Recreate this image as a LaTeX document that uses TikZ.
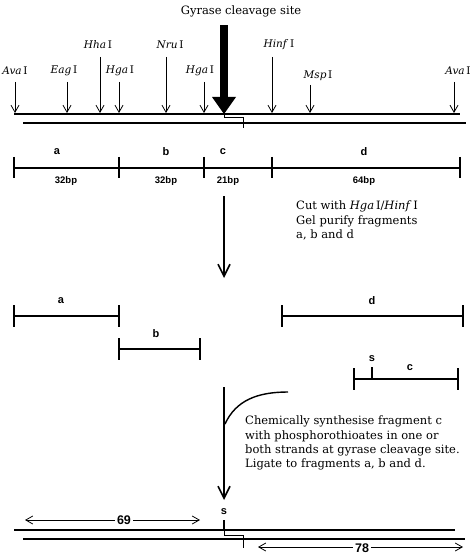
\documentclass[tikz,border=0pt]{standalone}
\usepackage{fontspec}
\setmainfont{DejaVu Serif}
\setsansfont{Liberation Sans}
\usetikzlibrary{arrows.meta}
\newcommand{\enzname}[1]{\textit{#1}\,I}
\tikzset{
	strand/.style={line width=1.7pt},
	nick/.style={line width=0.7pt},
	enz/.style={-{Straight Barb[length=7pt,width=8pt]}, line width=0.8pt},
	enzlabel/.style={font=\fontsize{10.5}{12}\selectfont, inner sep=0pt},
	bigarrow/.style={-{Straight Barb[length=12pt,width=12pt]}, line width=1.6pt},
	ruler/.style={line width=1.8pt},
	frag/.style={font=\sffamily\bfseries\fontsize{11}{12}\selectfont, inner sep=0pt},
	bp/.style={font=\sffamily\bfseries\fontsize{9.5}{11}\selectfont, inner sep=0pt},
	dim/.style={<->, >={Straight Barb[length=7pt,width=8pt]}, line width=0.8pt},
	dimlabel/.style={font=\sffamily\bfseries\fontsize{12.5}{13}\selectfont, fill=white, inner sep=2pt},
	note/.style={font=\fontsize{11.5}{14.3}\selectfont, align=left, inner sep=0pt, anchor=north west}
}
\begin{document}
\begin{tikzpicture}[x=1pt,y=-1pt]
	\useasboundingbox (0,0) rectangle (474,556);
	%gyrase site
	\node[font=\fontsize{11.5}{13}\selectfont] at (241,11) {Gyrase cleavage site};
	\fill (220,25) rectangle (228,98);
	\fill (212,97) -- (236,97) -- (224,114) -- cycle;
	%duplex
	\draw[strand] (14,114) -- (460,114);
	\draw[strand] (23,123) -- (466,123);
	\draw[nick] (224,114) |- (243,117) -- (243,128);
	%enzymes
	\draw[enz] (15,82) -- (15,113);
	\node[enzlabel] at (15,71) {\enzname{Ava}};
	\draw[enz] (67,82) -- (67,113);
	\node[enzlabel] at (64,71) {\enzname{Eag}};
	\draw[enz] (100,57) -- (100,113);
	\node[enzlabel] at (98,45) {\enzname{Hha}};
	\draw[enz] (119,82) -- (119,113);
	\node[enzlabel] at (120,71) {\enzname{Hga}};
	\draw[enz] (166,57) -- (166,113);
	\node[enzlabel] at (170,45) {\enzname{Nru}};
	\draw[enz] (204,82) -- (204,113);
	\node[enzlabel] at (200,71) {\enzname{Hga}};
	\draw[enz] (272,57) -- (272,113);
	\node[enzlabel] at (279,45) {\enzname{Hinf}};
	\draw[enz] (310,85) -- (310,113);
	\node[enzlabel] at (318,76) {\enzname{Msp}};
	\draw[enz] (454,82) -- (454,113);
	\node[enzlabel] at (458,71) {\enzname{Ava}};
	%fragments on the map
	\draw[ruler] (14,168) -- (460,168);
	\draw[ruler] (14,157) -- (14,178);
	\draw[ruler] (119,157) -- (119,178);
	\draw[ruler] (204,157) -- (204,178);
	\draw[ruler] (272,157) -- (272,178);
	\draw[ruler] (460,157) -- (460,178);
	\node[frag] at (57,152) {a};
	\node[frag] at (166,152) {b};
	\node[frag] at (223,152) {c};
	\node[frag] at (364,152) {d};
	\node[bp] at (66,181) {32bp};
	\node[bp] at (166,181) {32bp};
	\node[bp] at (228,181) {21bp};
	\node[bp] at (364,181) {64bp};
	%cut
	\draw[bigarrow] (224,196) -- (224,278);
	\node[note] at (296,201) {Cut with \enzname{Hga}/\enzname{Hinf}\\Gel purify fragments\\a, b and d};
	%purified a, b, d
	\draw[ruler] (14,316) -- (119,316);
	\draw[ruler] (14,305) -- (14,327);
	\draw[ruler] (119,305) -- (119,327);
	\node[frag] at (61,301) {a};
	\draw[ruler] (282,316) -- (463,316);
	\draw[ruler] (282,305) -- (282,327);
	\draw[ruler] (463,305) -- (463,327);
	\node[frag] at (372,301) {d};
	\draw[ruler] (119,349) -- (200,349);
	\draw[ruler] (119,338) -- (119,360);
	\draw[ruler] (200,338) -- (200,360);
	\node[frag] at (156,334) {b};
	%synthetic c
	\draw[ruler] (354,379) -- (458,379);
	\draw[ruler] (354,368) -- (354,390);
	\draw[ruler] (458,368) -- (458,390);
	\draw[ruler] (372,367) -- (372,379);
	\node[frag] at (372,359) {s};
	\node[frag] at (410,368) {c};
	%ligate
	\draw[bigarrow] (224,387) -- (224,500);
	\draw[line width=1.4pt] (225,424) .. controls (236,400) and (258,392) .. (288,392);
	\node[note] at (245,416) {Chemically synthesise fragment c\\with phosphorothioates in one or\\both strands at gyrase cleavage site.\\Ligate to fragments a, b and d.};
	%product
	\draw[strand] (14,530) -- (455,530);
	\draw[strand] (23,539) -- (465,539);
	\draw[ruler] (224,520) -- (224,530);
	\draw[nick] (224,530) |- (243,535) -- (243,548);
	\node[frag] at (224,512) {s};
	\draw[dim] (25,520) -- (200,520);
	\node[dimlabel] at (124,520) {69};
	\draw[dim] (258,547) -- (463,547);
	\node[dimlabel] at (362,548) {78};
\end{tikzpicture}
\end{document}
